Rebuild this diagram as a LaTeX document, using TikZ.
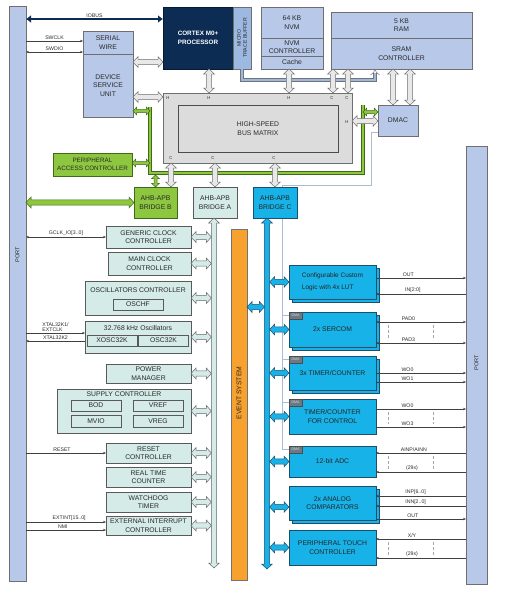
\documentclass[tikz,border=0pt]{standalone}
\usepackage{fontspec}
\setmainfont{Liberation Sans}
\usetikzlibrary{shapes,arrows.meta,positioning,calc,shadows,backgrounds}

\definecolor{portblue}{HTML}{B7C8E8}
\definecolor{periw}{HTML}{B7C8E8}
\definecolor{navy}{HTML}{0C2C54}
\definecolor{mtbblue}{HTML}{9DB9E2}
\definecolor{busgray}{HTML}{DCDCDC}
\definecolor{arrgray}{HTML}{E8E8E8}
\definecolor{edgegray}{HTML}{6F6F6F}
\definecolor{limegreen}{HTML}{8DC63F}
\definecolor{darkgreen}{HTML}{3E6B17}
\definecolor{paleteal}{HTML}{D4EBE8}
\definecolor{cyanblk}{HTML}{17B2E8}
\definecolor{cyanedge}{HTML}{1D4E6B}
\definecolor{evorange}{HTML}{F7A12F}
\definecolor{dmagray}{HTML}{6B7985}
\definecolor{txtgray}{HTML}{2A2A2A}
\definecolor{dmablue}{HTML}{A8BED0}

\newcommand{\arrS}{2.6pt}
\newcommand{\arrH}{5.4pt}
\newcommand{\arrL}{5pt}

\tikzset{
	blk/.style={rectangle, draw=edgegray, line width=0.6pt, inner sep=1pt, outer sep=0pt,
		align=center, font=\fontsize{6.8}{8.5}\selectfont, text=txtgray},
	memblk/.style={blk, fill=periw},
	tealblk/.style={blk, fill=paleteal, draw=black!65},
	cyanbox/.style={blk, fill=cyanblk, draw=cyanedge, text=black!85},
	stackbox/.style={cyanbox, copy shadow={shadow xshift=3pt, shadow yshift=-3pt}},
	greenblk/.style={blk, fill=limegreen, draw=darkgreen},
	boxtitle/.style={anchor=north, inner sep=0pt, font=\fontsize{6.8}{8}\selectfont, text=txtgray},
	dmatag/.style={rectangle, draw=black!70, fill=dmagray, inner sep=0pt, outer sep=0pt,
		minimum width=13pt, minimum height=7pt, anchor=north west, text=white!85!black,
		font=\fontsize{3.6}{3.8}\selectfont},
	buslbl/.style={font=\fontsize{4.2}{5}\selectfont, text=txtgray, inner sep=0pt},
	siglbl/.style={font=\fontsize{5.2}{5.8}\selectfont, text=txtgray, inner sep=0.8pt},
	vlbl/.style={rotate=90, inner sep=0pt, font=\fontsize{6.8}{7}\selectfont, text=txtgray},
	sigarr/.style={draw=black!75, line width=0.45pt, -{Stealth[length=3pt,width=2.4pt]}},
	sigbi/.style={sigarr, {Stealth[length=3pt,width=2.4pt]}-{Stealth[length=3pt,width=2.4pt]}},
	dotsep/.style={draw=black!35, densely dashed, line width=0.4pt},
	dmalink/.style={draw=dmablue, line width=0.9pt},
	greenbus/.style={draw=darkgreen, double=limegreen, double distance=2.4pt, line width=0.6pt},
	mtbpipe/.style={draw=black!55, double=mtbblue, double distance=2.8pt, line width=0.5pt, -Implies},
	iobus/.style={navy, line width=2pt, {Latex[length=5pt,width=8pt]}-{Latex[length=5pt,width=8pt]}},
	smallarr/.code={\def\arrS{1.5pt}\def\arrH{3.8pt}\def\arrL{3.6pt}},
	hollowh/.style={draw=edgegray, line width=0.5pt, fill=arrgray, line join=miter,
		to path={let \p1=(\tikztostart), \p2=(\tikztotarget) in
			(\x1,\y1) -- (\x1+\arrL,\y1+\arrH) -- (\x1+\arrL,\y1+\arrS) -- (\x2-\arrL,\y1+\arrS)
			-- (\x2-\arrL,\y1+\arrH) -- (\x2,\y1) -- (\x2-\arrL,\y1-\arrH) -- (\x2-\arrL,\y1-\arrS)
			-- (\x1+\arrL,\y1-\arrS) -- (\x1+\arrL,\y1-\arrH) -- cycle}},
	hollowv/.style={draw=edgegray, line width=0.5pt, fill=arrgray, line join=miter,
		to path={let \p1=(\tikztostart), \p2=(\tikztotarget) in
			(\x1,\y1) -- (\x1-\arrH,\y1-\arrL) -- (\x1-\arrS,\y1-\arrL) -- (\x1-\arrS,\y2+\arrL)
			-- (\x1-\arrH,\y2+\arrL) -- (\x1,\y2) -- (\x1+\arrH,\y2+\arrL) -- (\x1+\arrS,\y2+\arrL)
			-- (\x1+\arrS,\y1-\arrL) -- (\x1+\arrH,\y1-\arrL) -- cycle}},
	greenfill/.style={fill=limegreen, draw=darkgreen},
	tealfill/.style={fill=paleteal, draw=black!60},
	cyanfill/.style={fill=cyanblk, draw=cyanedge}
}

\begin{document}
\begin{tikzpicture}[x=1pt, y=-1pt]
\useasboundingbox (0,0) rectangle (510,600);

% ports
\node[memblk, fill=portblue, minimum width=17pt, minimum height=575pt] (portL) at (17.5,293.5) {};
\node[memblk, fill=portblue, minimum width=21pt, minimum height=438pt] (portR) at (476.5,365) {};
\node[vlbl, font=\fontsize{5.6}{6}\selectfont] (portLtxt) at (17.5,255) {PORT};
\node[vlbl, font=\fontsize{5.6}{6}\selectfont] (portRtxt) at (476.5,363) {PORT};

% cpu, memories, debug
\node[blk, fill=navy, draw=navy!60!black, text=white, font=\bfseries\fontsize{6.3}{9}\selectfont,
	minimum width=70pt, minimum height=62pt] (cortex) at (198,38) {CORTEX M0+\\PROCESSOR};
\node[memblk, fill=mtbblue, minimum width=18pt, minimum height=62pt] (mtb) at (242,38) {};
\node[vlbl, align=center, font=\fontsize{5.2}{6}\selectfont] (mtbtxt) at (mtb) {MICRO\\TRACE BUFFER};

\node[memblk, minimum width=62pt, minimum height=31pt] (nvm) at (292,22.5) {64 KB\\NVM};
\node[memblk, minimum width=62pt, minimum height=18pt, below=0pt of nvm] (nvmctrl) {NVM\\CONTROLLER};
\node[memblk, minimum width=62pt, minimum height=13pt, below=0pt of nvmctrl] (cache) {Cache};

\node[memblk, minimum width=141pt, minimum height=26pt] (ram) at (401.5,25) {5 KB\\RAM};
\node[memblk, minimum width=141pt, minimum height=31pt, below=0pt of ram] (sram) {SRAM\\CONTROLLER};

\node[memblk, minimum width=50pt, minimum height=23pt] (swire) at (108,42.5) {SERIAL\\WIRE};
\node[memblk, minimum width=50pt, minimum height=63pt, below=0pt of swire] (dsu) {DEVICE\\SERVICE\\UNIT};

% bus matrix
\node[blk, fill=busgray, minimum width=189pt, minimum height=70pt] (bus) at (257.5,128) {};
\node[blk, fill=busgray, draw=black!70, minimum width=160pt, minimum height=47pt] (matrix) at (258,128.5) {HIGH-SPEED\\BUS MATRIX};
\node[memblk, minimum width=40pt, minimum height=31pt] (dmac) at (398,120.5) {DMAC};

\node[buslbl] (hdsu) at (168,98) {H};
\node[buslbl] (hcpu) at (209,98) {H};
\node[buslbl] (hnvm) at (289,98) {H};
\node[buslbl] (cram1) at (332,98) {C};
\node[buslbl] (cram2) at (347,98) {C};
\node[buslbl] (hdmac) at (347,122) {H};
\node[buslbl] (cbrb) at (171,158) {C};
\node[buslbl] (cbra) at (213,158) {C};
\node[buslbl] (cbrc) at (274,158) {C};

% bridges
\node[greenblk, font=\fontsize{6.3}{8}\selectfont, minimum width=79pt, minimum height=23pt] (pac) at (92.5,164.5) {PERIPHERAL\\ACCESS CONTROLLER};
\node[greenblk, minimum width=43pt, minimum height=31pt] (bridgeB) at (155.5,202.5) {AHB-APB\\BRIDGE B};
\node[tealblk, minimum width=44pt, minimum height=31pt] (bridgeA) at (215,202.5) {AHB-APB\\BRIDGE A};
\node[cyanbox, minimum width=44pt, minimum height=31pt] (bridgeC) at (275,202.5) {AHB-APB\\BRIDGE C};

\node[blk, fill=evorange, draw=black!55, minimum width=16pt, minimum height=351pt] (evsys) at (239,404.5) {};
\node[vlbl] (evtxt) at (239,393) {EVENT SYSTEM};

% APB A peripherals
\node[tealblk, minimum width=85pt, minimum height=22pt] (gclk) at (148.5,237) {GENERIC CLOCK\\CONTROLLER};
\node[tealblk, minimum width=83pt, minimum height=23pt] (mclk) at (149.5,263.5) {MAIN CLOCK\\CONTROLLER};
\node[tealblk, minimum width=106pt, minimum height=34pt] (oscctrl) at (138,298) {};
\node[boxtitle] (oscttl) at ([yshift=-7pt]oscctrl.north) {OSCILLATORS CONTROLLER};
\node[tealblk, minimum width=50pt, minimum height=11pt] (oschf) at (138,304.5) {OSCHF};
\node[tealblk, minimum width=106pt, minimum height=32pt] (osc32) at (138,337) {};
\node[boxtitle] (osc32ttl) at ([yshift=-4.5pt]osc32.north) {32.768 kHz Oscillators};
\node[tealblk, minimum width=50pt, minimum height=11pt] (xosc) at (112,340.5) {XOSC32K};
\node[tealblk, minimum width=50pt, minimum height=11pt] (osck) at (163.5,340.5) {OSC32K};
\node[tealblk, minimum width=85pt, minimum height=19pt] (pm) at (148.5,373.5) {POWER\\MANAGER};
\node[tealblk, minimum width=134pt, minimum height=44pt] (supply) at (124,411) {};
\node[boxtitle] (supttl) at ([yshift=-3pt]supply.north) {SUPPLY CONTROLLER};
\node[tealblk, minimum width=50pt, minimum height=11pt] (bod) at (96,405.5) {BOD};
\node[tealblk, minimum width=50pt, minimum height=11pt] (vref) at (158,405.5) {VREF};
\node[tealblk, minimum width=50pt, minimum height=12pt] (mvio) at (96,421) {MVIO};
\node[tealblk, minimum width=50pt, minimum height=12pt] (vreg) at (158,421) {VREG};
\node[tealblk, minimum width=85pt, minimum height=20pt] (rstc) at (148.5,453) {RESET\\CONTROLLER};
\node[tealblk, minimum width=85pt, minimum height=20pt] (rtc) at (148.5,477) {REAL TIME\\COUNTER};
\node[tealblk, minimum width=85pt, minimum height=20pt] (wdt) at (148.5,502) {WATCHDOG\\TIMER};
\node[tealblk, minimum width=85pt, minimum height=19pt] (eic) at (148.5,525.5) {EXTERNAL INTERRUPT\\CONTROLLER};

% APB C peripherals
\node[stackbox, font=\fontsize{6.5}{8}\selectfont, minimum width=87pt, minimum height=34pt, align=left] (ccl) at (332.5,282) {Configurable Custom\\[4pt]Logic with 4x LUT};
\node[stackbox, minimum width=87pt, minimum height=35pt] (sercom) at (332.5,329.5) {2x SERCOM};
\node[stackbox, minimum width=87pt, minimum height=34pt] (tc) at (332.5,373) {3x TIMER/COUNTER};
\node[cyanbox, minimum width=87pt, minimum height=35pt] (tcd) at (332.5,416.5) {TIMER/COUNTER\\FOR CONTROL};
\node[cyanbox, minimum width=87pt, minimum height=31pt] (adc) at (332.5,461.5) {12-bit ADC};
\node[stackbox, minimum width=87pt, minimum height=34pt] (ac) at (332.5,503) {2x ANALOG\\COMPARATORS};
\node[cyanbox, minimum width=87pt, minimum height=35pt] (ptc) at (332.5,547.5) {PERIPHERAL TOUCH\\CONTROLLER};

\node[dmatag] (sercomdma) at (sercom.north west) {DMA};
\node[dmatag] (tcdma) at (tc.north west) {DMA};
\node[dmatag] (tcddma) at (tcd.north west) {DMA};
\node[dmatag] (adcdma) at (adc.north west) {DMA};

% bus lines
\coordinate (dmaX) at (282,185);
\begin{pgfonlayer}{background}
	\draw[dmalink] (dmac.west |- 0,132) -| (371,185) -- (dmaX) |- (adcdma.west);
	\foreach \t in {sercomdma, tcdma, tcddma}
		\draw[dmalink] (dmaX |- \t.west) -- (\t.west);
\end{pgfonlayer}

\coordinate (gbusL) at (150,107);
\coordinate (gbusR) at (363,105);
\coordinate (mtbturn) at (375,80);
\draw[greenbus] (gbusL) -- (gbusL |- 0,173) -- (gbusR |- 0,173) -- (gbusR);
\draw[mtbpipe] (mtb.south) |- (mtbturn) -- (sram.south -| mtbturn);
\draw[iobus] (portL.east |- 0,19) -- (cortex.west |- 0,19) node[midway, above, siglbl] (liobus) {IOBUS};

% AHB arrows
\draw[hollowh] (dsu.east |- 0,62) to (cortex.west |- 0,62);
\draw[hollowh] (dsu.east |- 0,97) to (bus.west |- 0,97);
\draw[hollowv] (cortex.south -| 209,0) to (bus.north -| 209,0);
\draw[hollowv] (cache.south -| 289,0) to (bus.north -| 289,0);
\foreach \xx in {333,348}
	\draw[hollowv] (sram.south -| \xx,0) to (bus.north -| \xx,0);
\foreach \xx in {393,410}
	\draw[hollowv] (sram.south -| \xx,0) to (dmac.north -| \xx,0);
\draw[hollowh] (bus.east |- 0,121) to (dmac.west |- 0,121);
\draw[hollowv] (bus.south -| 171,0) to (bridgeB.north -| 171,0);
\draw[hollowv] (bus.south -| bridgeA.north) to (bridgeA.north);
\draw[hollowv] (bus.south -| bridgeC.north) to (bridgeC.north);

% APB B (green)
\draw[hollowh, greenfill, smallarr] (dsu.east |- 0,111) to (gbusL |- 0,111);
\draw[hollowh, greenfill, smallarr] (pac.east |- 0,163) to (gbusL |- 0,163);
\draw[hollowh, greenfill, smallarr] (gbusR |- 0,112) to (dmac.west |- 0,112);
\draw[hollowv, greenfill, smallarr] (bridgeB.north |- 0,175) to (bridgeB.north);
\draw[hollowh, greenfill] (portL.east |- bridgeB.west) to (bridgeB.west);

% APB A
\coordinate (busAtop) at (bridgeA.south -| 214,0);
\coordinate (busAend) at (214,568);
\coordinate (busAedge) at (211.4,0);
\draw[hollowv, tealfill] (busAtop) to (busAend);
\foreach \b in {gclk, mclk, oscctrl, osc32, pm, supply, rstc, rtc, wdt, eic}
	\draw[hollowh, tealfill] (\b.east) to (\b.east -| busAedge);

% APB C
\coordinate (busCtop) at (bridgeC.south -| 267,0);
\coordinate (busCend) at (267,569);
\coordinate (busCedge) at (269.6,0);
\coordinate (busCleft) at (264.4,0);
\draw[hollowv, cyanfill] (busCtop) to (busCend);
\foreach \b in {ccl, sercom, tc, tcd, adc, ptc}
	\draw[hollowh, cyanfill] (busCedge |- \b.west) to (\b.west);
\draw[hollowh, cyanfill] (busCedge |- 0,507) to (ac.west |- 0,507);
\draw[hollowh, cyanfill] (evsys.east |- 0,307) to (busCleft |- 0,307);

% left pins
\draw[sigarr] (portL.east |- 0,41) -- (swire.west |- 0,41) node[midway, above, siglbl] (lswclk) {SWCLK};
\draw[sigbi] (portL.east |- 0,52) -- (swire.west |- 0,52) node[midway, above, siglbl] (lswdio) {SWDIO};
\draw[sigbi] (portL.east |- gclk.west) -- (gclk.west) node[midway, above, siglbl] (lgclk) {GCLK\_IO[3..0]};
\draw[sigarr] (portL.east |- 0,333) -- (osc32.west |- 0,333) node[midway, above, siglbl, align=left] (lxin) {XTAL32K1/\\EXTCLK};
\draw[sigarr] (osc32.west |- 0,341) -- (portL.east |- 0,341) node[midway, above, siglbl] (lxout) {XTAL32K2};
\draw[sigarr] (portL.east |- rstc.west) -- (rstc.west) node[pos=0.45, above, siglbl] (lrst) {RESET};
\draw[sigarr] (portL.east |- 0,522) -- (eic.west |- 0,522) node[pos=0.54, above, siglbl] (lext) {EXTINT[15..0]};
\draw[sigarr] (portL.east |- 0,530) -- (eic.west |- 0,530) node[pos=0.46, above, siglbl] (lnmi) {NMI};

% right pins
\draw[sigarr] (ccl.east |- 0,278) -- (portR.west |- 0,278) node[pos=0.36, above, siglbl] (lcout) {OUT};
\draw[sigarr] (portR.west |- 0,294) -- (ccl.east |- 0,294) node[pos=0.59, above, siglbl] (lcin) {IN[2:0]};
\draw[sigbi] (sercom.east |- 0,322) -- (portR.west |- 0,322) node[pos=0.36, above, siglbl] (lpad0) {PAD0};
\draw[sigbi] (sercom.east |- 0,343) -- (portR.west |- 0,343) node[pos=0.36, above, siglbl] (lpad3) {PAD3};
\draw[sigarr] (tc.east |- 0,373) -- (portR.west |- 0,373) node[pos=0.35, above, siglbl] (ltwo0) {WO0};
\draw[sigarr] (tc.east |- 0,382) -- (portR.west |- 0,382) node[pos=0.35, above, siglbl] (ltwo1) {WO1};
\draw[sigarr] (tcd.east |- 0,409) -- (portR.west |- 0,409) node[pos=0.35, above, siglbl] (ldwo0) {WO0};
\draw[sigarr] (tcd.east |- 0,427) -- (portR.west |- 0,427) node[pos=0.35, above, siglbl] (ldwo3) {WO3};
\draw[sigarr] (portR.west |- 0,453) -- (adc.east |- 0,453) node[pos=0.58, above, siglbl] (lain) {AINP/AINN};
\draw[sigarr] (portR.west |- 0,472) -- (adc.east |- 0,472) node[pos=0.6, above, siglbl] (lain29) {(29x)};
\draw[sigarr] (portR.west |- 0,496) -- (ac.east |- 0,496) node[pos=0.56, above, siglbl] (linp) {INP[6..0]};
\draw[sigarr] (portR.west |- 0,506) -- (ac.east |- 0,506) node[pos=0.56, above, siglbl] (linn) {INN[2..0]};
\draw[sigarr] (ac.east |- 0,519) -- (portR.west |- 0,519) node[pos=0.41, above, siglbl] (lacout) {OUT};
\draw[sigarr] (portR.west |- 0,539) -- (ptc.east |- 0,539) node[pos=0.6, above, siglbl] (lxy) {X/Y};
\draw[sigarr] (portR.west |- 0,558) -- (ptc.east |- 0,558) node[pos=0.6, above, siglbl] (lptc29) {(29x)};

% dotted gaps
\foreach \xx in {388,433} {
	\draw[dotsep] (\xx,325) -- (\xx,340);
	\draw[dotsep] (\xx,412) -- (\xx,424);
	\draw[dotsep] (\xx,456) -- (\xx,469);
	\draw[dotsep] (\xx,542) -- (\xx,555);
}
\end{tikzpicture}
\end{document}
